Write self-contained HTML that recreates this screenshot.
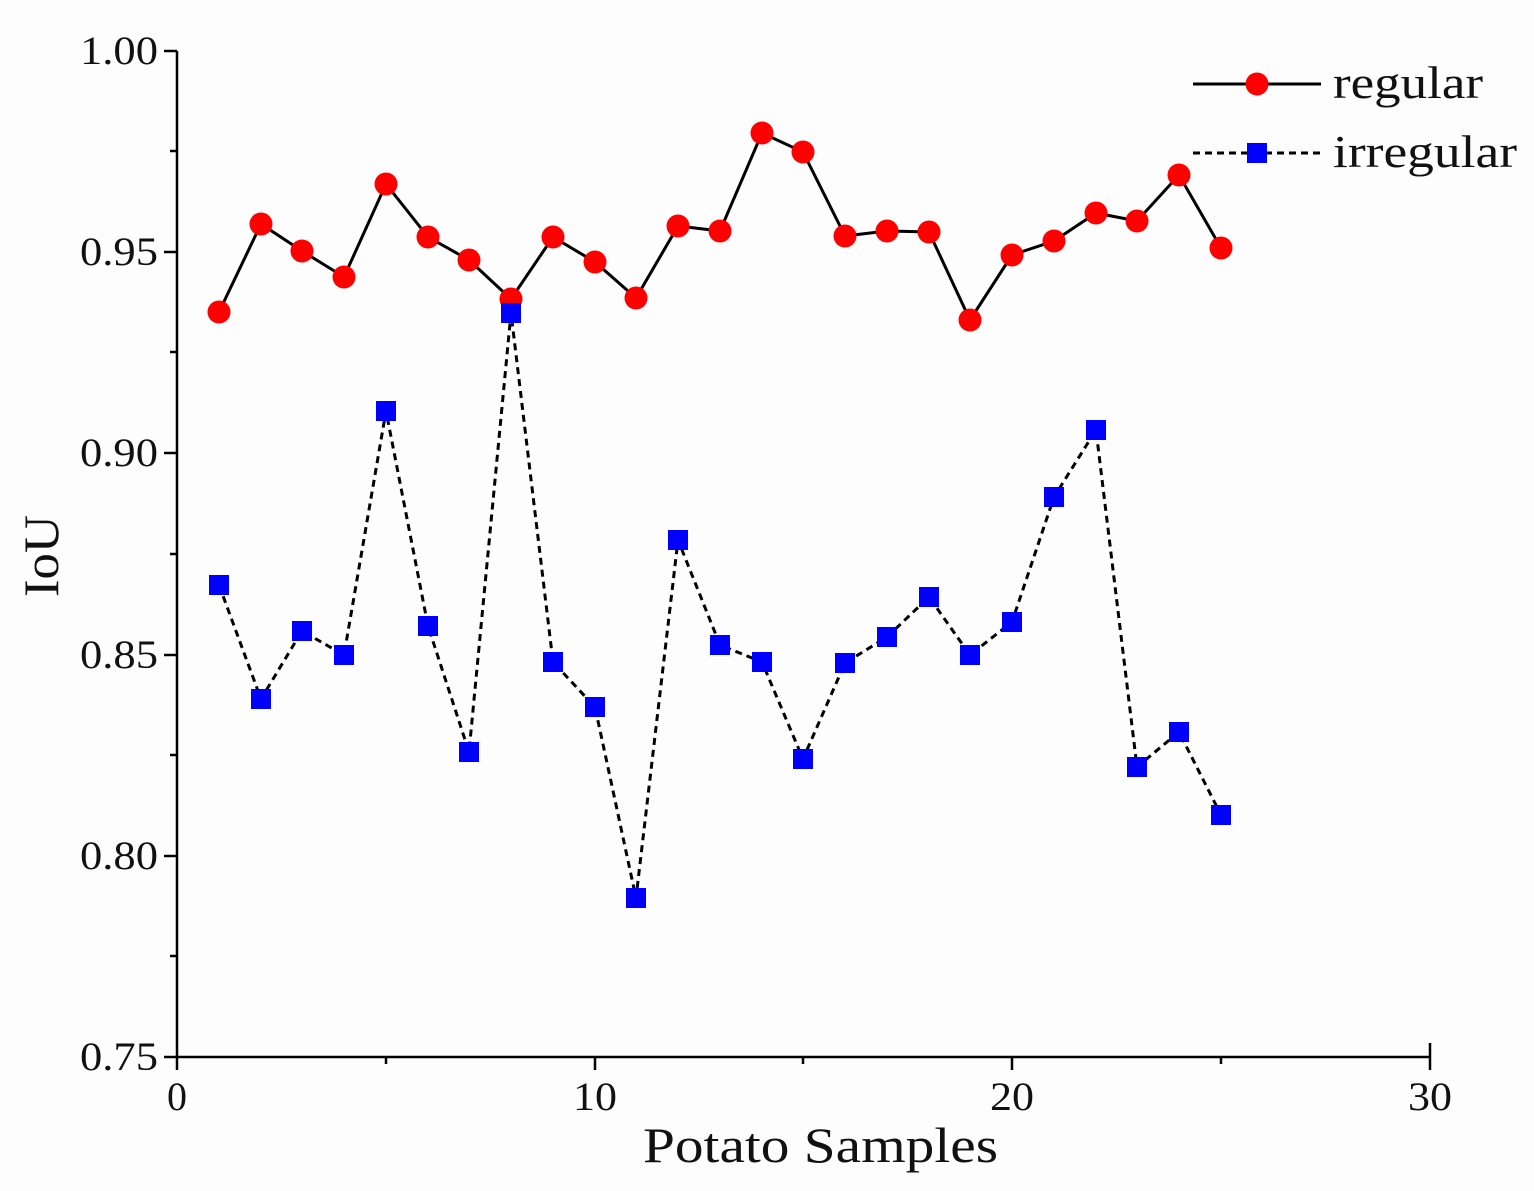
<!DOCTYPE html>
<html><head><meta charset="utf-8"><style>
html,body{margin:0;padding:0;background:#fdfdfd;}
svg{display:block;}
text{font-family:"Liberation Serif",serif;fill:#111;}
</style></head><body>
<svg width="1534" height="1191" viewBox="0 0 1534 1191" xmlns="http://www.w3.org/2000/svg">
<rect width="1534" height="1191" fill="#fdfdfd"/>
<g stroke="#000" stroke-width="2.5" fill="none">
<line x1="177" y1="51" x2="177" y2="1057"/>
<line x1="177" y1="1057" x2="1430" y2="1057"/>
<line x1="164" y1="51" x2="177" y2="51"/>
<line x1="164" y1="252" x2="177" y2="252"/>
<line x1="164" y1="453" x2="177" y2="453"/>
<line x1="164" y1="655" x2="177" y2="655"/>
<line x1="164" y1="856" x2="177" y2="856"/>
<line x1="164" y1="1057" x2="177" y2="1057"/>
<line x1="170" y1="151" x2="177" y2="151"/>
<line x1="170" y1="352" x2="177" y2="352"/>
<line x1="170" y1="554" x2="177" y2="554"/>
<line x1="170" y1="755" x2="177" y2="755"/>
<line x1="170" y1="956" x2="177" y2="956"/>
<line x1="177" y1="1057" x2="177" y2="1070"/>
<line x1="595" y1="1057" x2="595" y2="1070"/>
<line x1="1012" y1="1057" x2="1012" y2="1070"/>
<line x1="1430" y1="1043" x2="1430" y2="1070"/>
<line x1="386" y1="1057" x2="386" y2="1064"/>
<line x1="803" y1="1057" x2="803" y2="1064"/>
<line x1="1221" y1="1057" x2="1221" y2="1064"/>
</g>
<g font-size="40" text-anchor="end">
<text x="158" y="64" textLength="78" lengthAdjust="spacingAndGlyphs">1.00</text>
<text x="158" y="265" textLength="78" lengthAdjust="spacingAndGlyphs">0.95</text>
<text x="158" y="466" textLength="78" lengthAdjust="spacingAndGlyphs">0.90</text>
<text x="158" y="668" textLength="78" lengthAdjust="spacingAndGlyphs">0.85</text>
<text x="158" y="869" textLength="78" lengthAdjust="spacingAndGlyphs">0.80</text>
<text x="158" y="1070" textLength="78" lengthAdjust="spacingAndGlyphs">0.75</text>
</g>
<g font-size="40" text-anchor="middle">
<text x="177" y="1110">0</text>
<text x="595" y="1110" textLength="44" lengthAdjust="spacingAndGlyphs">10</text>
<text x="1012" y="1110" textLength="44" lengthAdjust="spacingAndGlyphs">20</text>
<text x="1430" y="1110" textLength="44" lengthAdjust="spacingAndGlyphs">30</text>
</g>
<text x="643" y="1162" font-size="50" textLength="355" lengthAdjust="spacingAndGlyphs">Potato Samples</text>
<text transform="translate(58,597) rotate(-90)" font-size="50" textLength="82" lengthAdjust="spacingAndGlyphs">IoU</text>
<polyline fill="none" stroke="#000" stroke-width="3" points="219,312 261,224 302,251 344,277 386,184 428,237 469,260 511,299 553,237 595,262 636,298 678,226 720,231 762,133 803,152 845,236 887,231 929,232 970,320 1012,255 1054,241 1096,213 1137,221 1179,175 1221,248"/>
<polyline fill="none" stroke="#000" stroke-width="3" stroke-dasharray="7,5" points="219,585 261,699 302,631 344,655 386,411 428,626 469,752 511,313 553,662 595,707 636,898 678,540 720,645 762,662 803,759 845,663 887,637 929,597 970,655 1012,622 1054,497 1096,430 1137,767 1179,732 1221,815"/>
<g fill="#f00">
<circle cx="219" cy="312" r="11.5"/><circle cx="261" cy="224" r="11.5"/><circle cx="302" cy="251" r="11.5"/><circle cx="344" cy="277" r="11.5"/><circle cx="386" cy="184" r="11.5"/><circle cx="428" cy="237" r="11.5"/><circle cx="469" cy="260" r="11.5"/><circle cx="511" cy="299" r="11.5"/><circle cx="553" cy="237" r="11.5"/><circle cx="595" cy="262" r="11.5"/><circle cx="636" cy="298" r="11.5"/><circle cx="678" cy="226" r="11.5"/><circle cx="720" cy="231" r="11.5"/><circle cx="762" cy="133" r="11.5"/><circle cx="803" cy="152" r="11.5"/><circle cx="845" cy="236" r="11.5"/><circle cx="887" cy="231" r="11.5"/><circle cx="929" cy="232" r="11.5"/><circle cx="970" cy="320" r="11.5"/><circle cx="1012" cy="255" r="11.5"/><circle cx="1054" cy="241" r="11.5"/><circle cx="1096" cy="213" r="11.5"/><circle cx="1137" cy="221" r="11.5"/><circle cx="1179" cy="175" r="11.5"/><circle cx="1221" cy="248" r="11.5"/>
</g>
<g fill="#00f" transform="translate(-10,-10)">
<rect x="219" y="585" width="20" height="20"/><rect x="261" y="699" width="20" height="20"/><rect x="302" y="631" width="20" height="20"/><rect x="344" y="655" width="20" height="20"/><rect x="386" y="411" width="20" height="20"/><rect x="428" y="626" width="20" height="20"/><rect x="469" y="752" width="20" height="20"/><rect x="511" y="313" width="20" height="20"/><rect x="553" y="662" width="20" height="20"/><rect x="595" y="707" width="20" height="20"/><rect x="636" y="898" width="20" height="20"/><rect x="678" y="540" width="20" height="20"/><rect x="720" y="645" width="20" height="20"/><rect x="762" y="662" width="20" height="20"/><rect x="803" y="759" width="20" height="20"/><rect x="845" y="663" width="20" height="20"/><rect x="887" y="637" width="20" height="20"/><rect x="929" y="597" width="20" height="20"/><rect x="970" y="655" width="20" height="20"/><rect x="1012" y="622" width="20" height="20"/><rect x="1054" y="497" width="20" height="20"/><rect x="1096" y="430" width="20" height="20"/><rect x="1137" y="767" width="20" height="20"/><rect x="1179" y="732" width="20" height="20"/><rect x="1221" y="815" width="20" height="20"/>
</g>
<line x1="1193" y1="84" x2="1321" y2="84" stroke="#000" stroke-width="3"/>
<circle cx="1257" cy="84" r="11.5" fill="#f00"/>
<text x="1333" y="98" font-size="46" textLength="150" lengthAdjust="spacingAndGlyphs">regular</text>
<line x1="1193" y1="153" x2="1321" y2="153" stroke="#000" stroke-width="3" stroke-dasharray="7,5"/>
<rect x="1247" y="143" width="20" height="20" fill="#00f"/>
<text x="1333" y="167" font-size="46" textLength="184" lengthAdjust="spacingAndGlyphs">irregular</text>
</svg>
</body></html>
